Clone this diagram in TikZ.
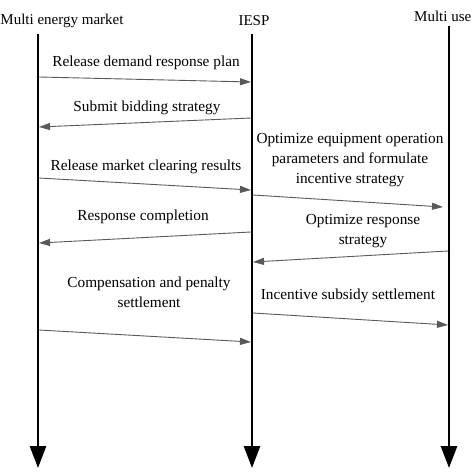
\documentclass[tikz,border=0pt]{standalone}
\usepackage{fontspec}
\setmainfont{Liberation Serif}
\usetikzlibrary{arrows.meta}
\begin{document}
\begin{tikzpicture}[x=1pt,y=-1pt,
  lifeline/.style={line width=2.8pt,-{Triangle[width=16pt,length=22pt]}},
  msg/.style={draw=black!65,line width=0.9pt,-{Triangle[width=7pt,length=11pt]}},
  lbl/.style={font=\fontsize{15.3}{20}\selectfont,align=center,inner sep=0pt},
  hdr/.style={font=\fontsize{15}{17}\selectfont,inner sep=0pt}]
\useasboundingbox (0,0) rectangle (474,474);
% headers
\node[hdr,anchor=center] (hA) at (62,21) {Multi energy market};
\node[hdr,anchor=center] (hB) at (254,21) {IESP};
\node[hdr,anchor=west] (hC) at (414,16) {Multi use};
% lifelines
\coordinate (a0) at (38,34); \coordinate (a1) at (38,468);
\coordinate (b0) at (252,34); \coordinate (b1) at (252,468);
\coordinate (c0) at (449,26); \coordinate (c1) at (449,468);
\draw[lifeline] (a0) -- (a1);
\draw[lifeline] (b0) -- (b1);
\draw[lifeline] (c0) -- (c1);
% message endpoints
\coordinate (m1s) at (39,77);  \coordinate (m1e) at (251,82);
\coordinate (m2s) at (251,118); \coordinate (m2e) at (39,127);
\coordinate (m3s) at (253,195); \coordinate (m3e) at (443,207);
\coordinate (m4s) at (39,178); \coordinate (m4e) at (251,190);
\coordinate (m5s) at (251,232); \coordinate (m5e) at (39,243);
\coordinate (m6s) at (448,251); \coordinate (m6e) at (253,262);
\coordinate (m7s) at (39,330); \coordinate (m7e) at (251,342);
\coordinate (m8s) at (253,313); \coordinate (m8e) at (448,325);
\draw[msg] (m1s) -- (m1e);
\draw[msg] (m2s) -- (m2e);
\draw[msg] (m3s) -- (m3e);
\draw[msg] (m4s) -- (m4e);
\draw[msg] (m5s) -- (m5e);
\draw[msg] (m6s) -- (m6e);
\draw[msg] (m7s) -- (m7e);
\draw[msg] (m8s) -- (m8e);
% labels
\node[lbl] (l1) at (146,63) {Release demand response plan};
\node[lbl] (l2) at (147,108) {Submit bidding strategy};
\node[lbl] (l3) at (350,160) {Optimize equipment operation\\parameters and formulate\\incentive strategy};
\node[lbl] (l4) at (146,167) {Release market clearing results};
\node[lbl] (l5) at (143,217) {Response completion};
\node[lbl] (l6) at (363,231) {Optimize response\\strategy};
\node[lbl] (l7) at (149,292) {Compensation and penalty\\settlement};
\node[lbl] (l8) at (348,296) {Incentive subsidy settlement};
\end{tikzpicture}
\end{document}
